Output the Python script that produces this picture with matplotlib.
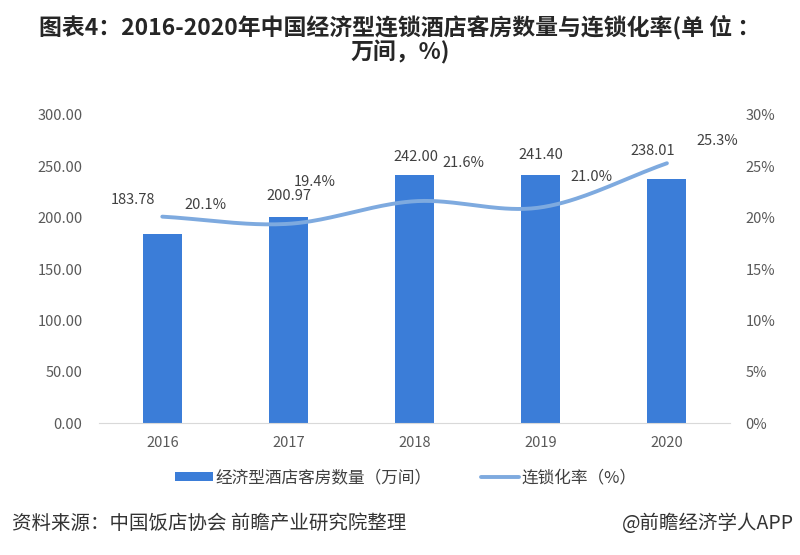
import numpy as np
import matplotlib
matplotlib.use("Agg")
from matplotlib import pyplot as plt
from matplotlib.ticker import FuncFormatter

plt.rcParams['font.family'] = ['Noto Sans CJK SC', 'DejaVu Sans']

# 数据
years = ['2016', '2017', '2018', '2019', '2020']
rooms = [183.78, 200.97, 242.00, 241.40, 238.01]     # 万间
chain_rate = [20.1, 19.4, 21.6, 21.0, 25.3]           # %

# 标签偏移（像素）
room_off = [(-29, 34), (0, 21), (1, 18), (0, 20), (-14, 28)]
rate_off = [(43, 12), (26, 42), (49, 38), (51, 30), (50, 22)]

bar_color = '#3b7dd8'
line_color = '#7eaadf'
tick_color = '#595959'
label_color = '#404040'


def smooth(xs, ys, n=40):
	# Catmull-Rom 平滑曲线（类似 Excel 平滑线）
	xs = np.asarray(xs, float)
	ys = np.asarray(ys, float)
	px = np.concatenate([[2 * xs[0] - xs[1]], xs, [2 * xs[-1] - xs[-2]]])
	py = np.concatenate([[2 * ys[0] - ys[1]], ys, [2 * ys[-1] - ys[-2]]])
	outx, outy = [], []
	t = np.linspace(0, 1, n)
	for i in range(1, len(px) - 2):
		for p, out in ((px, outx), (py, outy)):
			p0, p1, p2, p3 = p[i - 1], p[i], p[i + 1], p[i + 2]
			c1 = p1 + (p2 - p0) / 6.0
			c2 = p2 - (p3 - p1) / 6.0
			b = (1 - t) ** 3 * p1 + 3 * (1 - t) ** 2 * t * c1 + 3 * (1 - t) * t ** 2 * c2 + t ** 3 * p2
			out.extend(b)
	return np.array(outx), np.array(outy)


fig = plt.figure(figsize=(8, 5.55), dpi=100)
ax = fig.add_axes([0.124, 0.2378, 0.7885, 0.555])
ax2 = ax.twinx()

x = np.arange(len(years))
bars = ax.bar(x, rooms, width=0.31, color=bar_color, label='经济型酒店客房数量（万间）', zorder=2)
ax.set_ylim(0, 300)
ax.set_yticks(np.arange(0, 301, 50))
ax.yaxis.set_major_formatter(FuncFormatter(lambda v, p: '%.2f' % v))
ax.set_xlim(-0.5, len(years) - 0.5)
ax.set_xticks(x)
ax.set_xticklabels(years)

sx, sy = smooth(x, chain_rate)
line, = ax2.plot(sx, sy, color=line_color, lw=2.8, solid_capstyle='round', label='连锁化率（%）', zorder=3)
ax2.set_ylim(0, 30)
ax2.set_yticks(np.arange(0, 31, 5))
ax2.yaxis.set_major_formatter(FuncFormatter(lambda v, p: '%d%%' % v))

for a in (ax, ax2):
	for s in a.spines.values():
		s.set_visible(False)
	a.tick_params(length=0, colors=tick_color, labelsize=10.5)
ax.spines['bottom'].set_visible(True)
ax.spines['bottom'].set_color('#d9d9d9')
ax.tick_params(axis='y', pad=12)
ax.tick_params(axis='x', pad=9)
ax2.tick_params(axis='y', pad=11)

for i in range(len(years)):
	ax.annotate('%.2f' % rooms[i], (x[i], rooms[i]), xytext=room_off[i], textcoords='offset pixels',
				ha='center', va='center', fontsize=10.5, color=label_color)
	ax2.annotate('%.1f%%' % chain_rate[i], (x[i], chain_rate[i]), xytext=rate_off[i], textcoords='offset pixels',
				 ha='center', va='center', fontsize=10.5, color=label_color)

leg = fig.legend(handles=[bars, line], loc='center', bbox_to_anchor=(0.507, 0.139), ncol=2, frameon=False,
				 fontsize=12, handlelength=2.3, handleheight=0.45, columnspacing=3.0, handletextpad=0.1,
				 labelcolor='#404040')

fig.text(0.5, 0.952, '图表4：2016-2020年中国经济型连锁酒店客房数量与连锁化率(单 位 ：',
		 ha='center', va='center', fontsize=16.5, fontweight='bold', color='#262626')
fig.text(0.5, 0.906, '万间，%)', ha='center', va='center', fontsize=16.5, fontweight='bold', color='#262626')

fig.text(0.015, 0.057, '资料来源：中国饭店协会 前瞻产业研究院整理', ha='left', va='center', fontsize=14, color='#333333')
fig.text(0.993, 0.057, '@前瞻经济学人APP', ha='right', va='center', fontsize=14, color='#333333')

fig.savefig('out.png', dpi=100)
